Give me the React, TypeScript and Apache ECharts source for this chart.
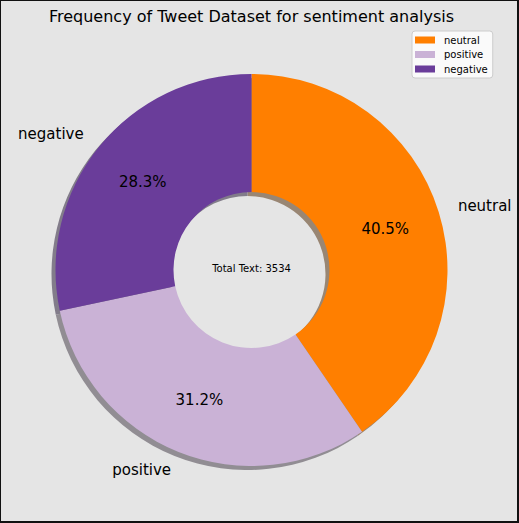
import React, { useEffect, useRef } from "react";
import * as echarts from "echarts";

const categories = ["neutral", "positive", "negative"];
const counts = [1430, 1103, 1001];
const colors = ["#ff7f00", "#cab2d6", "#6a3d9a"];
const shadowColors = ["#998673", "#918d93", "#827c8a"];
const titleText = "Frequency of Tweet Dataset for sentiment analysis";

const FONT = "DejaVu Sans, sans-serif";

export default function App() {
  const ref = useRef<HTMLDivElement>(null);
  useEffect(() => {
    if (!ref.current) return;
    const chart = echarts.init(ref.current, null, { renderer: "svg" });
    const total = counts.reduce((a, b) => a + b, 0);
    const cx = 250.5;
    const cy = 269;
    const R = 196;
    const r0 = 78;
    const main = categories.map((name, i) => ({
      name,
      value: counts[i],
      itemStyle: { color: colors[i] },
    }));
    const shadow = categories.map((name, i) => ({
      name,
      value: counts[i],
      itemStyle: { color: shadowColors[i] },
    }));
    const overlay = categories.map((name, i) => ({
      name,
      value: counts[i],
      itemStyle: { color: "rgba(0,0,0,0)" },
    }));
    const common = {
      type: "pie",
      startAngle: 90,
      clockwise: true,
      avoidLabelOverlap: false,
      silent: true,
      emphasis: { disabled: true },
      animation: false,
    };
    chart.setOption({
      animation: false,
      backgroundColor: "#e5e5e5",
      textStyle: { fontFamily: FONT },
      legend: {
        orient: "vertical",
        left: 411,
        top: 30,
        data: categories,
        icon: "rect",
        itemWidth: 20,
        itemHeight: 7,
        itemGap: 2.5,
        padding: [3, 5, 3, 3],
        backgroundColor: "#fafafa",
        borderColor: "#cccccc",
        borderWidth: 1,
        borderRadius: 3,
        selectedMode: false,
        textStyle: {
          fontFamily: FONT,
          fontSize: 10,
          lineHeight: 12,
          color: "#000",
          padding: [0, 0, 0, 4],
        },
      },
      graphic: [
        {
          type: "text",
          x: 250.5,
          y: 15,
          style: {
            text: titleText,
            font: `16px ${FONT}`,
            fill: "#000",
            align: "center",
            verticalAlign: "middle",
          },
        },
        {
          type: "text",
          x: cx,
          y: cy - 2,
          z: 10,
          style: {
            text: `Total Text: ${total}`,
            font: `10px ${FONT}`,
            fill: "#000",
            align: "center",
            verticalAlign: "middle",
          },
        },
      ],
      series: [
        {
          ...common,
          name: "main",
          z: 3,
          center: [cx, cy],
          radius: [r0, R],
          itemStyle: { borderWidth: 0 },
          label: {
            show: true,
            position: "inside",
            fontFamily: FONT,
            fontSize: 15,
            color: "#000",
            formatter: (p: any) => ((p.value / total) * 100).toFixed(1) + "%",
          },
          labelLine: { show: false },
          data: main,
        },
        {
          ...common,
          name: "labels",
          z: 4,
          center: [cx, cy],
          radius: [r0, R],
          itemStyle: { borderWidth: 0 },
          label: {
            show: true,
            position: "outside",
            fontFamily: FONT,
            fontSize: 15,
            color: "#000",
            distanceToLabelLine: 0,
            formatter: "{b}",
          },
          labelLine: { show: false, length: 20, length2: 0 },
          data: overlay,
        },
        {
          ...common,
          name: "shadow",
          z: 1,
          center: [cx - 4, cy + 4],
          radius: [r0, R],
          itemStyle: { borderWidth: 0 },
          label: { show: false },
          labelLine: { show: false },
          data: shadow,
        },
      ],
    });
    return () => chart.dispose();
  }, []);
  return (
    <div
      style={{
        position: "fixed",
        left: 0,
        top: 0,
        width: 519,
        height: 523,
        boxSizing: "border-box",
        borderStyle: "solid",
        borderColor: "#111",
        borderWidth: "1px 2px 2px 1px",
        background: "#e5e5e5",
      }}
    >
      <div ref={ref} style={{ width: 516, height: 520 }} />
    </div>
  );
}
